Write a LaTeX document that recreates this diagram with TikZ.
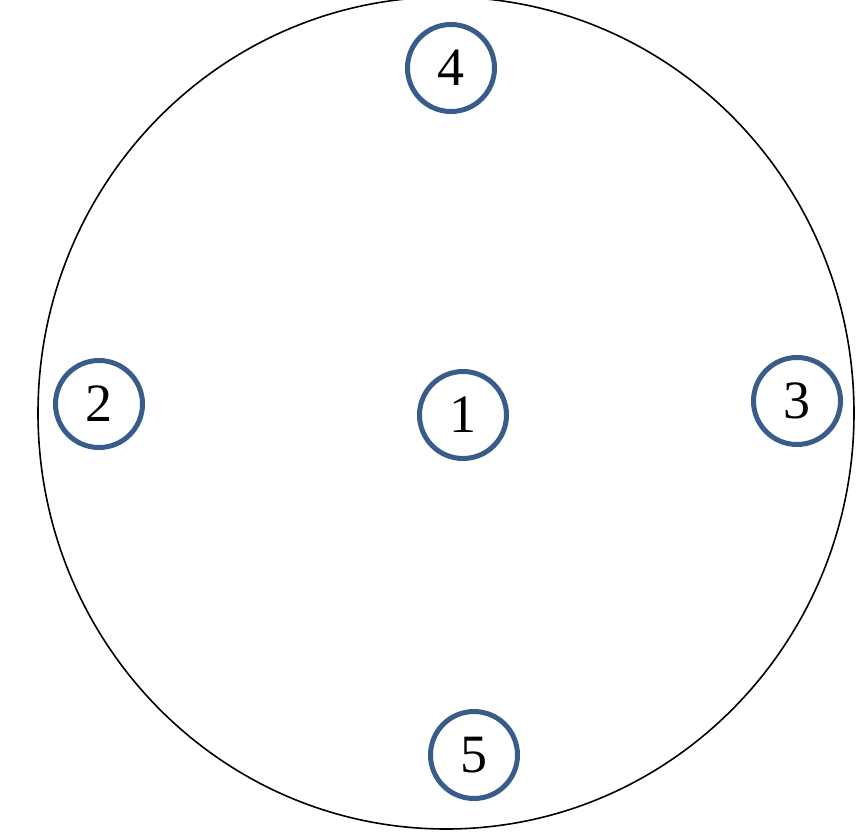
\documentclass[tikz,border=0pt]{standalone}
\usepackage{fontspec}
\setmainfont{Liberation Serif}
\usetikzlibrary{positioning}
\definecolor{ringblue}{RGB}{56,93,138}

\begin{document}
\begin{tikzpicture}[x=1pt,y=-1pt,
  site/.style={circle,draw=ringblue,line width=5pt,minimum size=87pt,inner sep=0pt,
               font=\fontsize{54}{60}\selectfont}]
  \useasboundingbox (0,0) rectangle (868,835);
  \draw[line width=1.6pt] (446,413) ellipse [x radius=408pt,y radius=416pt];

  \node[site] (p1) at (463,415) {1};
  \node[site] (p2) at (99,404)  {2};
  \node[site] (p3) at (797,401) {3};
  \node[site] (p4) at (451,68)  {4};
  \node[site] (p5) at (474,755) {5};
\end{tikzpicture}
\end{document}
